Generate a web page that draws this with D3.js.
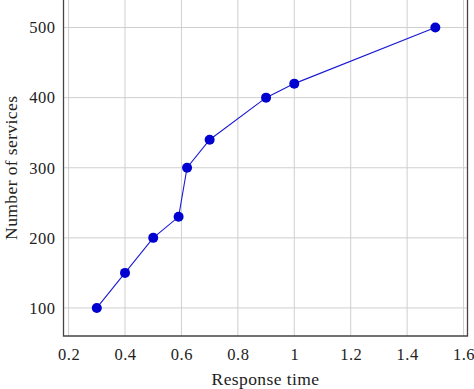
<!DOCTYPE html>
<html>
<head>
<meta charset="utf-8">
<script src="https://cdn.jsdelivr.net/npm/d3@7"></script>
<style>
  body { margin: 0; background: white; }
  text { font-family: "Liberation Serif", serif; fill: #222; }
</style>
</head>
<body>
<div id="container"></div>
<script>
let w = 474;
let h = 389;

// data
let responseTime = [0.3, 0.4, 0.5, 0.59, 0.62, 0.7, 0.9, 1.0, 1.5];
let services = [100, 150, 200, 230, 300, 340, 400, 420, 500];
let xTicks = [0.2, 0.4, 0.6, 0.8, 1, 1.2, 1.4, 1.6];
let yTicks = [100, 200, 300, 400, 500];

let plotLeft = 63.5, plotRight = 467.5, plotTop = -0.5, plotBottom = 336;

let viz = d3.select("#container").append("svg")
    .attr("width", w)
    .attr("height", h);

let xScale = d3.scaleLinear().domain([0.182, 1.614]).range([plotLeft, plotRight]);
let yScale = d3.scaleLinear().domain([60, 540]).range([plotBottom, plotTop]);

// grid
let grid = viz.append("g");
grid.selectAll(".vgrid").data(xTicks).enter().append("line")
    .attr("x1", d => xScale(d)).attr("x2", d => xScale(d))
    .attr("y1", plotTop).attr("y2", plotBottom)
    .attr("stroke", "#cfcfcf").attr("stroke-width", 1);
grid.selectAll(".hgrid").data(yTicks).enter().append("line")
    .attr("x1", plotLeft).attr("x2", plotRight)
    .attr("y1", d => yScale(d)).attr("y2", d => yScale(d))
    .attr("stroke", "#cfcfcf").attr("stroke-width", 1);

// axes (labels only, frame drawn separately)
let xAxis = d3.axisBottom(xScale).tickValues(xTicks).tickSize(0).tickPadding(12)
    .tickFormat(d => String(+d.toFixed(1)));
let yAxis = d3.axisLeft(yScale).tickValues(yTicks).tickSize(0).tickPadding(8);

let gx = viz.append("g").attr("transform", "translate(0," + plotBottom + ")").call(xAxis);
let gy = viz.append("g").attr("transform", "translate(" + plotLeft + ",0)").call(yAxis);
gx.select(".domain").remove();
gy.select(".domain").remove();
viz.selectAll(".tick text").style("font-size", "16.5px")
    .style("font-family", "'Liberation Serif', serif")
    .style("letter-spacing", "0.5px")
    .attr("fill", "#222");

// frame: left, bottom, right
viz.append("path")
    .attr("d", "M" + plotLeft + "," + plotTop + "V" + plotBottom + "H" + plotRight + "V" + plotTop)
    .attr("fill", "none").attr("stroke", "#444").attr("stroke-width", 1.3);

// line + markers
let line = d3.line()
    .x((d, i) => xScale(responseTime[i]))
    .y(d => yScale(d));

viz.append("path")
    .datum(services)
    .attr("d", line)
    .attr("fill", "none")
    .attr("stroke", "#1a1ad6")
    .attr("stroke-width", 1.1);

viz.append("g").selectAll("circle").data(services).enter()
    .append("circle")
    .attr("cx", (d, i) => xScale(responseTime[i]))
    .attr("cy", d => yScale(d))
    .attr("r", 5)
    .attr("fill", "#0000d0");

// axis titles
viz.append("text")
    .attr("x", (plotLeft + plotRight) / 2).attr("y", 385)
    .attr("text-anchor", "middle")
    .style("font-size", "17.5px")
    .style("letter-spacing", "0.4px")
    .text("Response time");

viz.append("text")
    .attr("transform", "translate(17," + ((plotTop + plotBottom) / 2) + ") rotate(-90)")
    .attr("text-anchor", "middle")
    .style("font-size", "17.5px")
    .style("letter-spacing", "0.4px")
    .text("Number of services");
</script>
</body>
</html>
